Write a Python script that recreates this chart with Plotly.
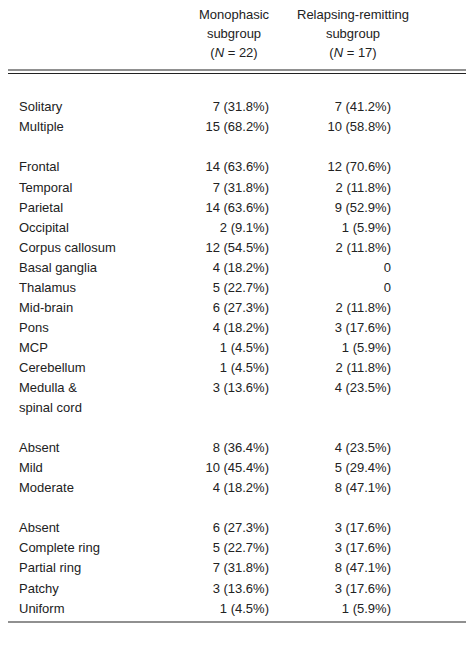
import plotly.graph_objects as go

labels = ["Number", "Solitary", "Multiple", "Site", "Frontal", "Temporal", "Parietal", "Occipital",
          "Corpus callosum", "Basal ganglia", "Thalamus", "Mid-brain", "Pons", "MCP", "Cerebellum",
          "Medulla &", "spinal cord", "Perilesional oedema and/or mass effect", "Absent", "Mild", "Moderate",
          "Enhancement", "Absent", "Complete ring", "Partial ring", "Patchy", "Uniform"]
indent = [0,1,1,0,1,1,1,1,1,1,1,1,1,1,1,1,1,0,1,1,1,0,1,1,1,1,1]
mono = ["", "7 (31.8%)", "15 (68.2%)", "", "14 (63.6%)", "7 (31.8%)", "14 (63.6%)", "2 (9.1%)",
        "12 (54.5%)", "4 (18.2%)", "5 (22.7%)", "6 (27.3%)", "4 (18.2%)", "1 (4.5%)", "1 (4.5%)",
        "3 (13.6%)", "", "", "8 (36.4%)", "10 (45.4%)", "4 (18.2%)", "", "6 (27.3%)", "5 (22.7%)",
        "7 (31.8%)", "3 (13.6%)", "1 (4.5%)"]
rr = ["", "7 (41.2%)", "10 (58.8%)", "", "12 (70.6%)", "2 (11.8%)", "9 (52.9%)", "1 (5.9%)",
      "2 (11.8%)", "0", "0", "2 (11.8%)", "3 (17.6%)", "1 (5.9%)", "2 (11.8%)", "4 (23.5%)", "", "",
      "4 (23.5%)", "5 (29.4%)", "8 (47.1%)", "", "3 (17.6%)", "3 (17.6%)", "8 (47.1%)", "3 (17.6%)", "1 (5.9%)"]
pval = ["", "0.738", "", "", "0.740", "0.251", "0.531", "1.000", "0.008", "0.118", "0.056", "0.426",
        "1.000", "1.000", "0.570", "0.261", "", "", "–*", "–*", "–*", "", "–*", "–*", "–*", "–*", "–*"]
header_left = ["Morphologic characteristics", "of lesions"]
header_mono = ["Monophasic", "subgroup", "(<i>N</i> = 22)"]
header_rr = ["Relapsing-remitting", "subgroup", "(<i>N</i> = 17)"]
footnote = "*Statistical analysis could not be performed due to small sample size."

FONT = dict(family="Liberation Sans Narrow, Arial Narrow, sans-serif", size=13, color="#222")
y0, dy = 80, 20.05
ys = [y0 + i * dy for i in range(len(labels))]

def txt(x, y, t, pos, font=FONT):
    fig.add_trace(go.Scatter(x=x, y=y, text=t, mode="text", textposition=pos, textfont=font,
                             hoverinfo="skip", cliponaxis=False))

fig = go.Figure()
txt([-3 + 14 * k for k in indent], ys, labels, "middle right")
txt([261] * len(ys), ys, mono, "middle left")
txt([383] * len(ys), ys, rr, "middle left")
txt([479] * len(ys), ys, pval, "middle left")
txt([-3, -3], [27, 46], header_left, "middle right")
txt([226] * 3, [8, 27, 46], header_mono, "middle center")
txt([345] * 3, [8, 27, 46], header_rr, "middle center")
txt([479], [46], ["<i>P</i>-value"], "middle left")
txt([-3], [636], [footnote], "middle right", dict(FONT, size=12.5))

for yy in (62, 65.5):
    fig.add_shape(type="line", x0=0, x1=474, y0=yy, y1=yy, line=dict(color="#222", width=1.2))
fig.add_shape(type="line", x0=0, x1=474, y0=614, y1=614, line=dict(color="#222", width=1.2))

fig.update_layout(width=474, height=652, margin=dict(l=0, r=0, t=0, b=0),
                  paper_bgcolor="white", plot_bgcolor="white", showlegend=False,
                  xaxis=dict(range=[0, 474], visible=False, fixedrange=True),
                  yaxis=dict(range=[652, 0], visible=False, fixedrange=True))
fig.write_html("out.html")
